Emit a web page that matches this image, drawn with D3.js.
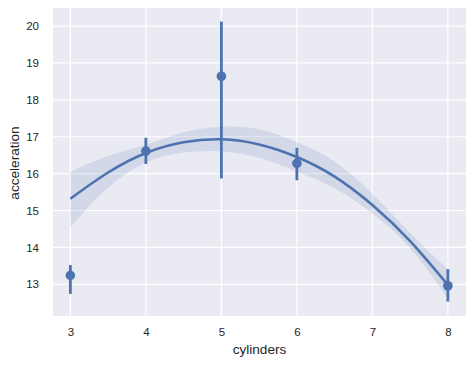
<!DOCTYPE html>
<html>
<head>
<meta charset="utf-8">
<script src="https://cdn.jsdelivr.net/npm/d3@7"></script>
<style>
  html, body { margin: 0; padding: 0; background: #ffffff; }
  svg { display: block; }
  text { font-family: "Liberation Sans", Arial, Helvetica, sans-serif; fill: #262626; }
</style>
</head>
<body>
<svg id="chart" width="474" height="365"></svg>
<script>
// Mean acceleration per cylinder count, with 95% CI
const cylinders = [3, 4, 5, 6, 8];
const meanAccel = [13.24, 16.61, 18.64, 16.28, 12.96];
const ciLow = [12.74, 16.26, 15.87, 15.82, 12.53];
const ciHigh = [13.52, 16.97, 20.12, 16.70, 13.41];

// Order-2 regression fit, with its confidence band
const fitX = [3, 3.5, 4, 4.5, 5, 5.5, 6, 6.5, 7, 7.5, 8];
const fitY = [15.32, 16.03, 16.56, 16.85, 16.93, 16.79, 16.45, 15.92, 15.15, 14.17, 12.98];
const bandLow = [14.56, 15.62, 16.30, 16.57, 16.60, 16.43, 16.06, 15.60, 14.92, 13.98, 12.62];
const bandHigh = [16.05, 16.48, 16.78, 17.12, 17.27, 17.20, 16.85, 16.33, 15.45, 14.40, 13.40];

const xTicks = [3, 4, 5, 6, 7, 8];
const yTicks = [13, 14, 15, 16, 17, 18, 19, 20];

(function () {
const color = "#4C72B0";
const svg = d3.select("#chart");
const pLeft = 53, pRight = 466, pTop = 8, pBottom = 316;

const x = d3.scaleLinear().domain([2.77, 8.24]).range([pLeft, pRight]);
const y = d3.scaleLinear().domain([12.14, 20.49]).range([pBottom, pTop]);

// background
svg.append("rect")
  .attr("x", pLeft).attr("y", pTop)
  .attr("width", pRight - pLeft).attr("height", pBottom - pTop)
  .attr("fill", "#EAEAF2");

// grid
const g = svg.append("g");
g.selectAll("line.gx").data(xTicks).enter().append("line")
  .attr("x1", d => x(d)).attr("x2", d => x(d))
  .attr("y1", pTop).attr("y2", pBottom)
  .attr("stroke", "#ffffff").attr("stroke-width", 1.2);
g.selectAll("line.gy").data(yTicks).enter().append("line")
  .attr("x1", pLeft).attr("x2", pRight)
  .attr("y1", d => y(d)).attr("y2", d => y(d))
  .attr("stroke", "#ffffff").attr("stroke-width", 1.2);

// axes (labels only)
const xAxis = d3.axisBottom(x).tickValues(xTicks).tickSize(0).tickPadding(12).tickFormat(d3.format("d"));
const yAxis = d3.axisLeft(y).tickValues(yTicks).tickSize(0).tickPadding(14).tickFormat(d3.format("d"));
const gx = svg.append("g").attr("transform", `translate(0,${pBottom})`).call(xAxis);
const gy = svg.append("g").attr("transform", `translate(${pLeft},0)`).call(yAxis);
[gx, gy].forEach(a => {
  a.select(".domain").remove();
  a.selectAll("text").style("font-size", "11.5px").attr("fill", "#262626");
});

// confidence band
const fit = fitX.map((v, i) => ({x: v, y: fitY[i], lo: bandLow[i], hi: bandHigh[i]}));
svg.append("path")
  .datum(fit)
  .attr("d", d3.area().x(d => x(d.x)).y0(d => y(d.lo)).y1(d => y(d.hi)).curve(d3.curveNatural))
  .attr("fill", color).attr("fill-opacity", 0.15);

// regression line
svg.append("path")
  .datum(fit)
  .attr("d", d3.line().x(d => x(d.x)).y(d => y(d.y)).curve(d3.curveNatural))
  .attr("fill", "none").attr("stroke", color).attr("stroke-width", 2.6);

// error bars + points
const pts = cylinders.map((c, i) => ({c, m: meanAccel[i], lo: ciLow[i], hi: ciHigh[i]}));
svg.selectAll("line.err").data(pts).enter().append("line")
  .attr("x1", d => x(d.c)).attr("x2", d => x(d.c))
  .attr("y1", d => y(d.lo)).attr("y2", d => y(d.hi))
  .attr("stroke", color).attr("stroke-width", 2.8);
svg.selectAll("circle.pt").data(pts).enter().append("circle")
  .attr("cx", d => x(d.c)).attr("cy", d => y(d.m))
  .attr("r", 4.8).attr("fill", color);

// axis titles
svg.append("text")
  .attr("x", (pLeft + pRight) / 2).attr("y", 354)
  .attr("text-anchor", "middle").style("font-size", "13.6px")
  .text("cylinders");
svg.append("text")
  .attr("transform", `translate(18.5,${(pTop + pBottom) / 2 + 1}) rotate(-90)`)
  .attr("text-anchor", "middle").style("font-size", "13.6px")
  .text("acceleration");
})();
</script>
</body>
</html>
